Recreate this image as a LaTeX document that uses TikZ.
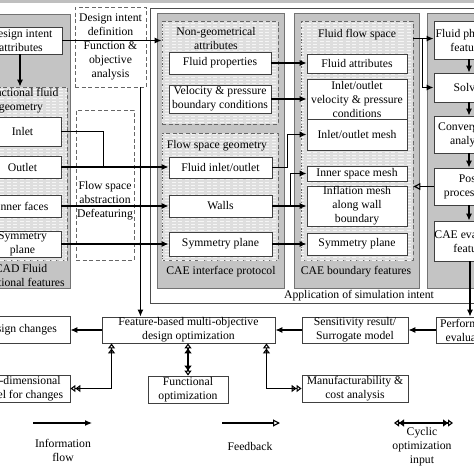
\documentclass[tikz,border=0pt]{standalone}
\usepackage{fontspec}
\setmainfont{Liberation Serif}
\usetikzlibrary{arrows.meta,calc,patterns}
\newcommand\bx[7]{\node[#2, minimum width={#5-#3}, minimum height={#6-#4}] (#1) at ({(#3+#5)/2},{(#4+#6)/2}) {#7};}
\begin{document}
\begin{tikzpicture}[x=1pt,y=-1pt,
  every node/.style={font=\fontsize{11.7}{14}\selectfont, inner sep=0pt, align=center},
  box/.style={draw=black!75, fill=white, line width=0.9pt},
  panel/.style={draw=black!55, fill=black!23, line width=0.9pt},
  dbox/.style={draw=black!60, fill=black!13, dash pattern=on 4pt off 2.5pt, line width=0.9pt,
    postaction={pattern=horizontal lines, pattern color=black!4}},
  wdbox/.style={draw=black!60, fill=white, dash pattern=on 4pt off 2.5pt, line width=0.9pt},
  frame/.style={draw=black!70, line width=0.9pt},
  conn/.style={line width=1.1pt},
  flow/.style={conn, -{Latex[length=7pt,width=6pt]}},
  fb/.style={conn, -{Triangle[open,length=7pt,width=7pt]}},
  cyc/.style={conn, {Triangle[open,length=5pt,width=7pt]Triangle[open,length=5pt,width=7pt]}-{Triangle[open,length=5pt,width=7pt]Triangle[open,length=5pt,width=7pt]}},
]
\useasboundingbox (0,0) rectangle (474,474);
\clip (0,0) rectangle (474,474);
\fill[black!25] (0,0) rectangle (474,2.5);

% outer frame
\bx{app}{frame}{150}{8}{520}{303}{}
\node (appl) at (359,296) {Application of simulation intent};

% left column
\bx{cadp}{panel}{-15}{14}{70}{288}{}
\node (cadl) at (21,275) {CAD Fluid\\functional features};
\bx{dia}{box}{-20}{27}{62}{54}{Design intent\\attributes}
\bx{ffg}{dbox}{-12}{87}{67}{260}{}
\node (ffgl) at (21,101) {Functional fluid\\geometry};
\bx{inlet}{box}{-20}{117}{61}{146}{\hspace*{4pt}Inlet}
\bx{outlet}{box}{-20}{156}{61}{178}{\hspace*{4pt}Outlet}
\bx{inner}{box}{-20}{195}{61}{217}{\hspace*{4pt}Inner faces}
\bx{sym1}{box}{-20}{231}{61}{257}{\hspace*{4pt}Symmetry\\\hspace*{4pt}plane}

% intent / abstraction
\bx{did}{wdbox}{75}{7}{146}{87}{Design intent\\definition\\Function \&\\objective\\analysis}
\bx{fsa}{wdbox}{76}{110}{134}{260}{}
\node (fsal) at (105,201) {Flow space\\abstraction\\Defeaturing};

% CAE interface protocol
\bx{cip}{panel}{157}{13}{284}{288}{}
\node (cipl) at (221,272) {CAE interface protocol};
\bx{ngd}{dbox}{162}{21}{278}{124}{}
\node (ngdl) at (216,38.5) {Non-geometrical\\attributes};
\bx{fprop}{box}{169}{52}{271}{74}{Fluid properties}
\bx{vpbc}{box}{169}{85}{271}{113}{Velocity \& pressure\\boundary conditions}
\bx{fsg}{dbox}{162}{133}{278}{260}{}
\node (fsgl) at (217,146) {Flow space geometry};
\bx{fio}{box}{169}{157}{272}{178}{Fluid inlet/outlet}
\bx{walls}{box}{169}{195}{272}{217}{Walls}
\bx{sym2}{box}{169}{232}{272}{256}{Symmetry plane}

% CAE boundary features
\bx{cbf}{panel}{294}{13}{419}{288}{}
\node (cbfl) at (356,272) {CAE boundary features};
\bx{ffs}{dbox}{301}{21}{413}{260}{}
\node (ffsl) at (357,35) {Fluid flow space};
\bx{fattr}{box}{307}{54}{407}{73}{Fluid attributes}
\bx{iovp}{box}{307}{79}{407}{119}{Inlet/outlet\\velocity \& pressure\\conditions}
\bx{iom}{box}{307}{119}{407}{150}{Inlet/outlet mesh}
\bx{ism}{box}{307}{166}{407}{181}{Inner space mesh}
\bx{infl}{box}{307}{186}{407}{226}{Inflation mesh\\along wall\\boundary}
\bx{sym3}{box}{307}{233}{407}{255}{Symmetry plane}

% right column
\bx{rp}{panel}{427}{13}{520}{288}{}
\bx{fpf}{box}{434}{21}{504}{59}{Fluid physical\\features}
\bx{solver}{box}{434}{73}{504}{102}{Solver}
\bx{conv}{box}{434}{116}{504}{153}{Convergence\\analysis}
\bx{post}{box}{434}{168}{504}{205}{Post\\processing}
\bx{cef}{box}{434}{221}{510}{261}{CAE evaluation\\features}

% bottom row
\bx{dc}{box}{-30}{316}{70}{343}{Design changes}
\bx{fbo}{box}{102}{317}{275}{343}{Feature-based multi-objective\\design optimization}
\bx{sens}{box}{302}{317}{408}{343}{Sensitivity result/\\Surrogate model}
\bx{perf}{box}{436}{317}{504}{343}{Performance\\evaluation}
\bx{nd}{box}{-30}{375}{70}{402}{Non-dimensional\\model for changes}
\bx{fo}{box}{148}{376}{228}{403}{Functional\\optimization}
\bx{mfg}{box}{302}{375}{408}{402}{Manufacturability \&\\cost analysis}

% connectors left
\draw[flow] (dia.south -| 20,0) -- (ffg.north -| 20,0);
\draw[flow] (dia.east) -- (dia.east -| ngd.west);
\draw[conn] (inlet.east) -- ++(42,0) |- (outlet.east);
\draw[flow] (outlet.east) -- (outlet.east -| fio.west);
\draw[flow] (inner.east) -- (inner.east -| walls.west);
\draw[flow] (sym1.east) -- (sym1.east -| sym2.west);
\draw[flow] ([xshift=-6pt]did.south east) -- ([xshift=-6pt]did.south east |- fbo.north);
\foreach \yy in {167,206,244} \fill (140,\yy) circle (1.4);

% middle to right
\draw[flow] (fprop.east) -- (fprop.east -| fattr.west);
\draw[flow] (vpbc.east) -- (vpbc.east -| iovp.west);
\draw[flow] (fio.east) -- ++(15,0) |- (iom.west);
\draw[flow] (walls.east) -- (walls.east -| infl.west);
\draw[flow] ([xshift=18pt]walls.east) |- (ism.west);
\draw[flow] (sym2.east) -- (sym2.east -| sym3.west);

% right
\draw[flow] ([yshift=-18pt]ffs.north east) -- ([yshift=-18pt]ffs.north east -| fpf.west);
\draw[flow] ([xshift=9pt,yshift=-18pt]ffs.north east) |- (solver.west);
\draw[fb] (post.west) -- (post.west -| ffs.east);
\draw[flow] (fpf.south) -- (solver.north);
\draw[flow] (solver.south) -- (conv.north);
\draw[flow] (conv.south) -- (post.north);
\draw[flow] (post.south) -- (post.south |- cef.north);
\draw[flow] (cef.south -| perf.north) -- (perf.north);

% bottom
\draw[flow] (fbo.west) -- (fbo.west -| dc.east);
\draw[flow] (sens.west) -- (sens.west -| fbo.east);
\draw[flow] (perf.west) -- (perf.west -| sens.east);
\draw[cyc] (nd.east) -| ([xshift=10pt]fbo.south west);
\draw[cyc] (fo.north) -- (fo.north |- fbo.south);
\draw[cyc] (mfg.west) -| ([xshift=-9pt]fbo.south east);

% legend
\coordinate (l1a) at (33,423); \coordinate (l1b) at (92,423);
\draw[flow] (l1a) -- (l1b);
\node (l1t) at (63,450) {Information\\flow};
\coordinate (l2a) at (222,423); \coordinate (l2b) at (280,423);
\draw[fb] (l2a) -- (l2b);
\node (l2t) at (250,446) {Feedback};
\coordinate (l3a) at (394,423); \coordinate (l3b) at (453,423);
\draw[cyc] (l3a) -- (l3b);
\node (l3t) at (422,447) {Cyclic\\optimization\\input};
\end{tikzpicture}
\end{document}
